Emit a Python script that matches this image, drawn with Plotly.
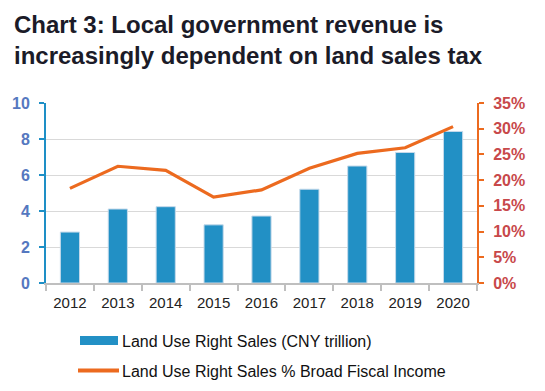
import plotly.graph_objects as go

years = ["2012", "2013", "2014", "2015", "2016", "2017", "2018", "2019", "2020"]
land_sales = [2.83, 4.11, 4.24, 3.23, 3.72, 5.21, 6.50, 7.25, 8.42]
share_pct = [18.4, 22.7, 21.9, 16.7, 18.1, 22.3, 25.2, 26.3, 30.4]
left_ticks = [0, 2, 4, 6, 8, 10]
right_ticks = [0, 5, 10, 15, 20, 25, 30, 35]
right_labels = [f"{v}%" for v in right_ticks]
bar_name = "Land Use Right Sales (CNY trillion)"
line_name = "Land Use Right Sales % Broad Fiscal Income"
title_text = "Chart 3: Local government revenue is<br>increasingly dependent on land sales tax"

BAR = "#2290C5"
LINE = "#EC6A1F"
FONT = "Liberation Sans, Arial, sans-serif"

fig = go.Figure()
fig.add_trace(go.Bar(
    x=years, y=land_sales, name=bar_name, marker_color=BAR,
    marker_line=dict(color="#C5D9EA", width=1), width=0.4, yaxis="y",
    showlegend=False,
))
fig.add_trace(go.Scatter(
    x=years, y=share_pct, name=line_name, mode="lines",
    line=dict(color=LINE, width=3.2), yaxis="y2", showlegend=False,
))

W, H = 545, 391
L, R, T, B = 46, 68, 103, 108

fig.update_layout(
    width=W, height=H,
    margin=dict(l=L, r=R, t=T, b=B),
    paper_bgcolor="white", plot_bgcolor="white",
    font=dict(family=FONT, color="#222"),
    xaxis=dict(
        type="category", showline=True, linecolor="#BFBFBF", linewidth=2,
        ticks="outside", ticklen=6, tickcolor="#BFBFBF", tickwidth=2,
        tickson="boundaries", showgrid=False, ticklabelstandoff=5,
        tickfont=dict(size=15, color="#222"),
    ),
    yaxis=dict(
        range=[0, 10], tickvals=left_ticks, showline=True, linecolor="#1E8FC6",
        linewidth=2, ticks="outside", ticklen=5, tickcolor="#1E8FC6", tickwidth=2,
        showgrid=True, gridcolor="#D9D9D9", gridwidth=1, zeroline=False,
        ticklabelstandoff=6,
        tickfont=dict(size=16, color="#5578C0", family=FONT, weight="bold"),
    ),
    yaxis2=dict(
        range=[0, 35], tickvals=right_ticks, ticktext=right_labels,
        overlaying="y", side="right", showline=True, linecolor=LINE,
        linewidth=2, ticks="outside", ticklen=5, tickcolor=LINE, tickwidth=2,
        showgrid=False, zeroline=False, ticklabelstandoff=6,
        tickfont=dict(size=16, color="#C8484A", family=FONT, weight="bold"),
    ),
)

def py(ypix):
    return (H - B - ypix) / (H - T - B)

def px(xpix):
    return (xpix - L) / (W - L - R)

# title
fig.add_annotation(text=title_text, xref="paper", yref="paper",
                   x=px(12), y=py(9), xanchor="left", yanchor="top", align="left",
                   showarrow=False,
                   font=dict(size=24, color="#1b1b28", family=FONT, weight="bold"))

# custom legend (symbols as paper shapes, labels as annotations)
fig.add_shape(type="rect", xref="paper", yref="paper",
              x0=px(80), x1=px(118), y0=py(345), y1=py(336),
              fillcolor=BAR, line=dict(width=0))
fig.add_shape(type="line", xref="paper", yref="paper",
              x0=px(78), x1=px(119), y0=py(370.5), y1=py(370.5),
              line=dict(color=LINE, width=4))
fig.add_annotation(text=bar_name, xref="paper", yref="paper",
                   x=px(120), y=py(341), xanchor="left", yanchor="middle",
                   showarrow=False, font=dict(size=16, color="#111", family=FONT))
fig.add_annotation(text=line_name, xref="paper", yref="paper",
                   x=px(120), y=py(371), xanchor="left", yanchor="middle",
                   showarrow=False, font=dict(size=16, color="#111", family=FONT))

fig.write_html("out.html", config={"displayModeBar": False},
               post_script="document.body.style.margin='0';")
